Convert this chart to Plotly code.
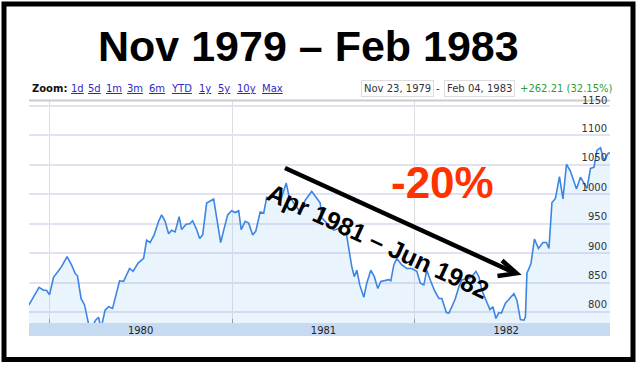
import plotly.graph_objects as go

# ---------------- data ----------------
dates = [
    "1979-11-22", "1979-12-12", "1979-12-21", "1979-12-27",
    "1980-01-02", "1980-01-10", "1980-01-20", "1980-01-26",
    "1980-02-06", "1980-02-15", "1980-02-22", "1980-02-27",
    "1980-03-05", "1980-03-12", "1980-03-22", "1980-03-27",
    "1980-04-03", "1980-04-09", "1980-04-14", "1980-04-22", "1980-04-29",
    "1980-05-07", "1980-05-21", "1980-05-29",
    "1980-06-10", "1980-06-17", "1980-06-27",
    "1980-07-08", "1980-07-14", "1980-07-21", "1980-07-29",
    "1980-08-07", "1980-08-13", "1980-08-20", "1980-08-27",
    "1980-09-02", "1980-09-09", "1980-09-17", "1980-09-22",
    "1980-10-01", "1980-10-08", "1980-10-14", "1980-10-22", "1980-10-28",
    "1980-11-03", "1980-11-11", "1980-11-25",
    "1980-12-01", "1980-12-09", "1980-12-16", "1980-12-23", "1980-12-31",
    "1981-01-07", "1981-01-14", "1981-01-19", "1981-01-27",
    "1981-02-03", "1981-02-11", "1981-02-17", "1981-02-26",
    "1981-03-05", "1981-03-11", "1981-03-18", "1981-03-25",
    "1981-04-04", "1981-04-08", "1981-04-19", "1981-04-24",
    "1981-05-04", "1981-05-17", "1981-05-27",
    "1981-06-09", "1981-06-19", "1981-06-26", "1981-06-29",
    "1981-07-13", "1981-07-23",
    "1981-08-02", "1981-08-12", "1981-08-17", "1981-08-22", "1981-08-28",
    "1981-09-02", "1981-09-07", "1981-09-13", "1981-09-21", "1981-09-27",
    "1981-10-05", "1981-10-12", "1981-10-19", "1981-10-25",
    "1981-11-03", "1981-11-10", "1981-11-14", "1981-11-20", "1981-11-26",
    "1981-12-06", "1981-12-16", "1981-12-26",
    "1982-01-05", "1982-01-12", "1982-01-19", "1982-01-25",
    "1982-02-01", "1982-02-09", "1982-02-18", "1982-02-24",
    "1982-03-05", "1982-03-10", "1982-03-16", "1982-03-23", "1982-03-30",
    "1982-04-05", "1982-04-19", "1982-04-25",
    "1982-05-03", "1982-05-09", "1982-05-15", "1982-05-25", "1982-05-31",
    "1982-06-06", "1982-06-12", "1982-06-18", "1982-06-23",
    "1982-07-01", "1982-07-09", "1982-07-18", "1982-07-24", "1982-07-31",
    "1982-08-07", "1982-08-10", "1982-08-13", "1982-08-21", "1982-08-28",
    "1982-09-05", "1982-09-14", "1982-09-21", "1982-09-26",
    "1982-10-02", "1982-10-09", "1982-10-17", "1982-10-24", "1982-10-31",
    "1982-11-08", "1982-11-20", "1982-11-28",
    "1982-12-05", "1982-12-11", "1982-12-18", "1982-12-25", "1982-12-31",
    "1983-01-07", "1983-01-14", "1983-01-22", "1983-01-26",
]
values = [
    812, 842, 837, 837,
    829, 859, 870, 877,
    894, 880, 866, 861,
    823, 812, 772, 774,
    786, 791, 772, 803, 809,
    806, 853, 852,
    874, 869, 883,
    891, 922, 918, 931,
    954, 965, 954, 933,
    939, 936, 962, 940,
    949, 950, 955, 940, 925,
    931, 985, 992,
    959, 918, 942, 965, 972,
    969, 972, 940, 954,
    951, 931, 937, 970,
    968, 995, 993, 996,
    995, 990, 1019, 999,
    985, 970, 990,
    1005, 993, 985, 960,
    947, 939,
    942, 931, 934, 905, 877,
    860, 871, 846, 825, 849,
    871, 860, 840, 852,
    854, 855, 853, 880, 891,
    880, 874, 874,
    869, 849, 846, 871,
    854, 837, 823, 823,
    799, 798, 809, 823, 843,
    855, 857, 860,
    869, 860, 837, 815, 804,
    809, 789, 799, 798,
    815, 823, 831, 820, 787,
    786, 792, 866, 882, 924,
    908, 918, 918, 908,
    986, 993, 1030, 992, 1051,
    1039, 1009, 1029,
    1019, 1010, 1044, 1046, 1075,
    1079, 1057, 1069, 1071,
]

title_text = "Nov 1979 – Feb 1983"
zoom_links = ["1d", "5d", "1m", "3m", "6m", "YTD", "1y", "5y", "10y", "Max"]
zoom_link_x = [69, 86, 104, 125, 147, 169, 197, 216, 235, 260]
range_from = "Nov 23, 1979"
range_to = "Feb 04, 1983"
change_text = "+262.21 (32.15%)"
period_label = "Apr 1981 – Jun 1982"
drop_label = "-20%"
top_tick = 1150

W, H = 640, 370


def px(x):
    return x / W


def py(y):
    return 1 - y / H


fig = go.Figure()
fig.add_trace(go.Scatter(
    x=dates, y=values, mode="lines",
    line=dict(color="#3d85e4", width=1.6),
    fill="tozeroy", fillcolor="rgba(150,200,245,0.2)",
    hoverinfo="skip", showlegend=False,
))

PL, PR, PT, PB = 29, 610, 101, 323

fig.update_layout(
    width=W, height=H, autosize=False,
    margin=dict(l=0, r=0, t=0, b=0),
    paper_bgcolor="white", plot_bgcolor="white",
    xaxis=dict(
        type="date", domain=[px(PL), px(PR)],
        range=[dates[0], dates[-1]],
        tick0="1980-01-01", dtick="M12", tickformat="%Y",
        ticklabelmode="period",
        showgrid=True, gridcolor="#dcdde3", gridwidth=1,
        ticks="inside", ticklen=4, tickcolor="#9a9a9a",
        tickfont=dict(family="DejaVu Sans", size=10, color="#222222"),
        zeroline=False, showline=False, fixedrange=True,
    ),
    yaxis=dict(
        domain=[py(PB), py(PT)], range=[781.3, 1158.5],
        side="right", tick0=800, dtick=50,
        ticklabelposition="inside top",
        showgrid=True, gridcolor="#e2e2f0", gridwidth=1.5,
        tickfont=dict(family="DejaVu Sans", size=10, color="#333333"),
        zeroline=False, showline=False, ticks="", fixedrange=True,
    ),
)

shapes = []
# x-axis band
shapes.append(dict(type="rect", xref="paper", yref="paper",
                   x0=px(PL), x1=px(PR), y0=py(336), y1=py(PB),
                   fillcolor="#c6daf2", line=dict(width=0), layer="below"))
# top gray rule
shapes.append(dict(type="line", xref="paper", yref="paper",
                   x0=px(PL), x1=px(PR), y0=py(100.5), y1=py(100.5),
                   line=dict(color="#cccccc", width=2)))
# arrow shaft
shapes.append(dict(type="line", xref="paper", yref="paper",
                   x0=px(285), y0=py(168), x1=px(514), y1=py(272.5),
                   line=dict(color="black", width=4.5)))
# arrow head (open chevron)
head = "M {:.5f},{:.5f} L {:.5f},{:.5f} L {:.5f},{:.5f}".format(
    px(502), py(260.5), px(516.5), py(273.3), px(497.5), py(276))
shapes.append(dict(type="path", xref="paper", yref="paper", path=head,
                   line=dict(color="black", width=4.5)))
# outer frame
shapes.append(dict(type="rect", xref="paper", yref="paper",
                   x0=px(4), x1=px(633), y0=py(359.5), y1=py(4),
                   line=dict(color="black", width=5), fillcolor="rgba(0,0,0,0)"))
fig.update_layout(shapes=shapes)

ann = []
ann.append(dict(text="<b>" + title_text + "</b>", x=px(308), y=py(46),
                xref="paper", yref="paper", xanchor="center", yanchor="middle",
                showarrow=False,
                font=dict(family="Liberation Sans", size=43, color="black")))
ann.append(dict(text="<b>Zoom:</b>", x=px(30), y=py(88), xref="paper", yref="paper",
                xanchor="left", yanchor="middle", showarrow=False,
                font=dict(family="DejaVu Sans", size=10, color="#111111")))
for lab, lx in zip(zoom_links, zoom_link_x):
    ann.append(dict(text="<u>" + lab + "</u>", x=px(lx), y=py(88),
                    xref="paper", yref="paper", xanchor="left", yanchor="middle",
                    showarrow=False,
                    font=dict(family="DejaVu Sans", size=10, color="#2b2bc4")))
ann.append(dict(text=range_from, x=px(397), y=py(88), xref="paper", yref="paper",
                xanchor="center", yanchor="middle", showarrow=False,
                bordercolor="#dddddd", borderwidth=1, borderpad=2,
                font=dict(family="DejaVu Sans", size=10, color="#333333")))
ann.append(dict(text="-", x=px(438), y=py(88), xref="paper", yref="paper",
                xanchor="center", yanchor="middle", showarrow=False,
                font=dict(family="DejaVu Sans", size=10, color="#333333")))
ann.append(dict(text=range_to, x=px(479), y=py(88), xref="paper", yref="paper",
                xanchor="center", yanchor="middle", showarrow=False,
                bordercolor="#dddddd", borderwidth=1, borderpad=2,
                font=dict(family="DejaVu Sans", size=10, color="#333333")))
ann.append(dict(text=change_text, x=px(518), y=py(88), xref="paper", yref="paper",
                xanchor="left", yanchor="middle", showarrow=False,
                font=dict(family="DejaVu Sans", size=10, color="#2e9e2e")))
# top y tick label (partly under the top rule in the reference)
ann.append(dict(text=str(top_tick), x=px(609), y=top_tick, xref="paper", yref="y",
                xanchor="right", yanchor="bottom", showarrow=False, yshift=-2,
                font=dict(family="DejaVu Sans", size=10, color="#333333")))
ann.append(dict(text="<b>" + period_label + "</b>", x=px(378), y=py(241),
                xref="paper", yref="paper", xanchor="center", yanchor="middle",
                textangle=24.7, showarrow=False,
                font=dict(family="Liberation Sans", size=25, color="black")))
ann.append(dict(text="<b>" + drop_label + "</b>", x=px(442), y=py(182.5),
                xref="paper", yref="paper", xanchor="center", yanchor="middle",
                showarrow=False,
                font=dict(family="Liberation Sans", size=44, color="#ff3300")))
fig.update_layout(annotations=ann)

fig.write_html("out.html")
